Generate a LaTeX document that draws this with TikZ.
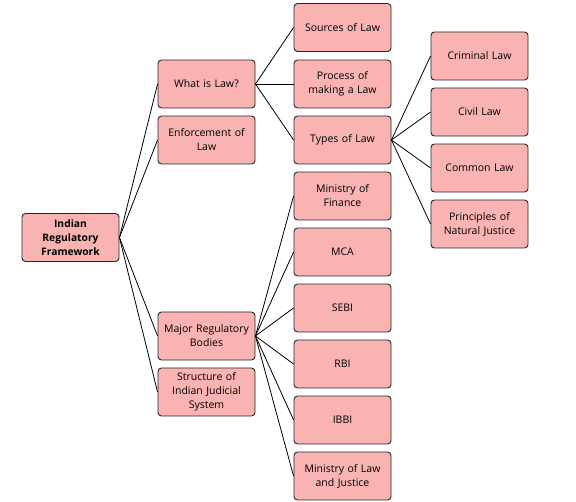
\documentclass[tikz,border=0pt]{standalone}
\usepackage{fontspec}
\setmainfont{Open Sans}
\definecolor{boxpink}{HTML}{FAB3B3}
\definecolor{boxline}{HTML}{262626}
\tikzset{
  box/.style={draw=boxline, line width=0.9pt, rounded corners=3.5pt, fill=boxpink,
    minimum width=97pt, minimum height=48pt, text width=94pt, align=center,
    inner sep=1pt, font=\fontsize{10.5}{14}\selectfont},
  link/.style={draw=black, line width=0.8pt}
}
\begin{document}
\begin{tikzpicture}[x=1pt,y=-1pt]
            \useasboundingbox (0,0) rectangle (576,502);
            % root
            \node [box, font=\bfseries\fontsize{10.3}{14.3}\selectfont] (root) at (70.5,237.5) {Indian\\Regulatory\\Framework};
            % first level
            \node [box] (law) at (206.5,84) {What is Law?};
            \node [box] (enf) at (206.5,140) {Enforcement of\\Law};
            \node [box] (major) at (206.5,336) {Major Regulatory\\Bodies};
            \node [box] (struct) at (206.5,392) {Structure of\\Indian Judicial\\System};
            % second level
            \node [box] (src) at (342.5,27.5) {Sources of Law};
            \node [box] (proc) at (342.5,84) {Process of\\making a Law};
            \node [box] (types) at (342.5,140) {Types of Law};
            \node [box] (fin) at (342.5,196) {Ministry of\\Finance};
            \node [box] (mca) at (342.5,252) {MCA};
            \node [box] (sebi) at (342.5,308) {SEBI};
            \node [box] (rbi) at (342.5,364) {RBI};
            \node [box] (ibbi) at (342.5,420) {IBBI};
            \node [box] (mlaw) at (342.5,476) {Ministry of Law\\and Justice};
            % third level
            \node [box] (crim) at (479.5,56) {Criminal Law};
            \node [box] (civ) at (479.5,112) {Civil Law};
            \node [box] (comm) at (479.5,168) {Common Law};
            \node [box] (prin) at (479.5,224) {Principles of\\Natural Justice};
            % links
            \foreach \c in {law,enf,major,struct} \draw [link] (root.east) -- (\c.west);
            \foreach \c in {src,proc,types} \draw [link] (law.east) -- (\c.west);
            \foreach \c in {fin,mca,sebi,rbi,ibbi,mlaw} \draw [link] (major.east) -- (\c.west);
            \foreach \c in {crim,civ,comm,prin} \draw [link] (types.east) -- (\c.west);
        \end{tikzpicture}
\end{document}
